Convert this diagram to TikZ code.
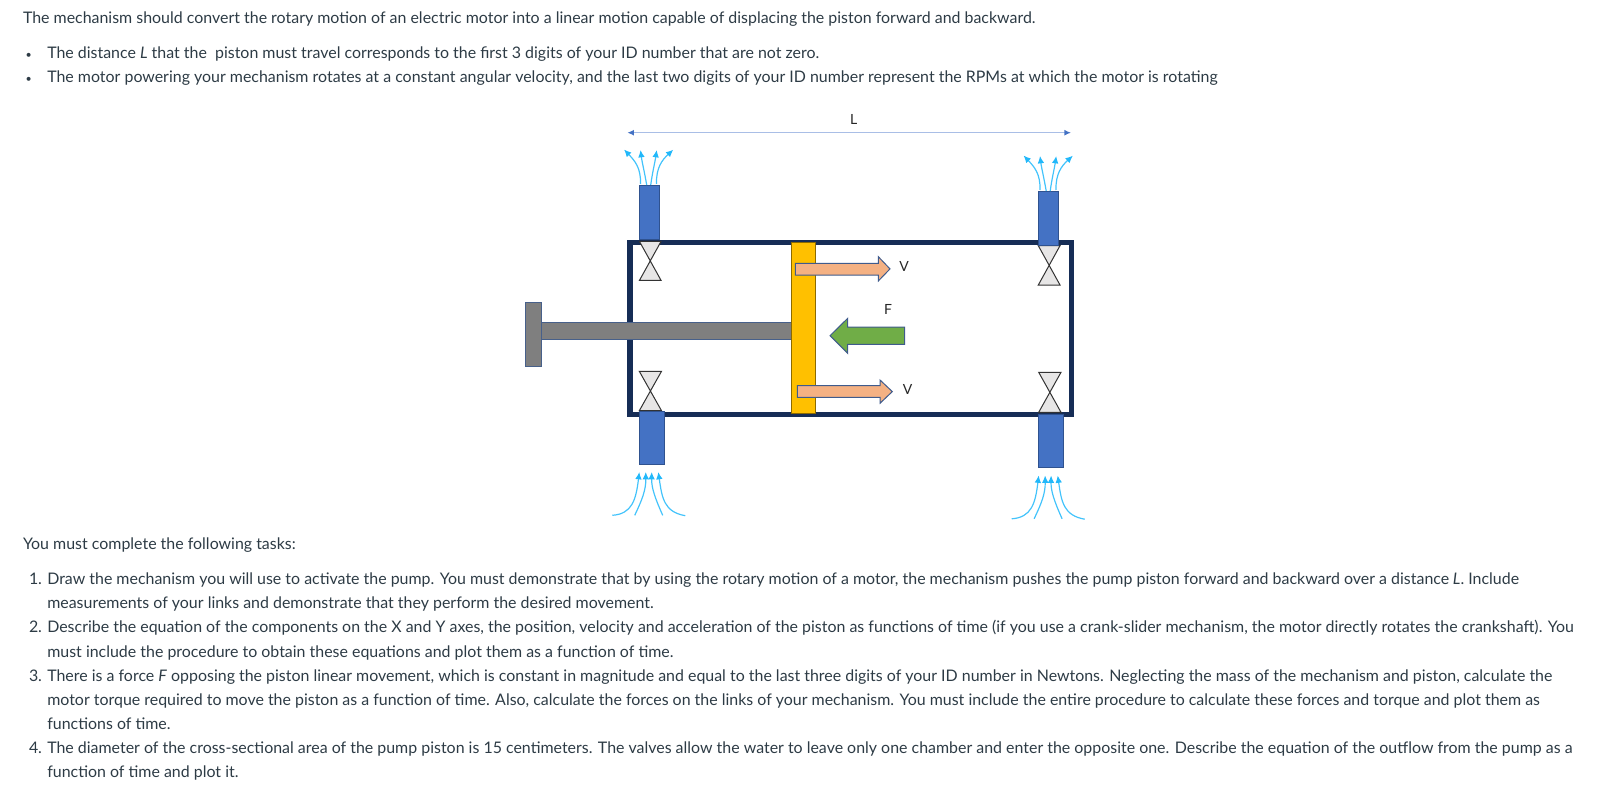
\documentclass[tikz,border=0pt]{standalone}
\usepackage{fontspec}
\setmainfont{Lato}
\usetikzlibrary{arrows.meta}
\definecolor{frameblue}{HTML}{162D56}
\definecolor{pipeblue}{HTML}{4472C4}
\definecolor{pipeedge}{HTML}{2F528F}
\definecolor{valvegray}{HTML}{E7E6E6}
\definecolor{rodgray}{HTML}{7F7F7F}
\definecolor{pistony}{HTML}{FFC000}
\definecolor{speedor}{HTML}{F4B183}
\definecolor{forceg}{HTML}{70AD47}
\definecolor{flowblue}{HTML}{22B8FA}
\definecolor{dimline}{HTML}{A9BEE6}
\definecolor{textc}{HTML}{2D3B45}
\tikzset{
  x=0.75pt,y=-0.75pt,
  bodytext/.style={anchor=base west,inner sep=0pt,outer sep=0pt,text=textc,font=\fontsize{11.95pt}{14pt}\selectfont},
  figlabel/.style={anchor=center,inner sep=0pt,text=black!85,font=\fontsize{10.5pt}{12pt}\selectfont},
  pipe/.style={draw=pipeedge,fill=pipeblue,line width=0.75pt},
  valve/.style={draw=black!80,fill=valvegray,line width=0.75pt,line join=miter},
  rodshape/.style={draw=pipeedge!70!gray,fill=rodgray,line width=0.6pt},
  blockarrow/.style={draw=pipeedge!80!gray,line width=0.75pt,line join=miter},
  flow/.style={draw=flowblue!85!white,line width=0.9pt,-{Latex[length=5.5pt,width=5pt,color=flowblue]}},
}
\newcommand{\myvalve}[4]{%
  \draw[valve] (#1,#3) -- (#2,#3) -- (#1,#4) -- (#2,#4) -- cycle;}
\newcommand{\fanup}[2]{%
  \begin{scope}[shift={(#1,#2)}]
    \draw[flow] (640.5,184) .. controls (641,168) and (635,161) .. (624,149.5);
    \draw[flow] (646.7,185) .. controls (644.5,172) and (642,162) .. (640.5,150);
    \draw[flow] (650.7,185) .. controls (652.5,172) and (655,162) .. (656.7,150);
    \draw[flow] (656.5,184) .. controls (656,168) and (662,160) .. (673.3,149.7);
  \end{scope}}
\newcommand{\fandown}[2]{%
  \begin{scope}[shift={(#1,#2)}]
    \draw[flow] (612.3,515.3) .. controls (632,514) and (636,500) .. (639.3,472);
    \draw[flow] (634.7,515.3) .. controls (642,500) and (646,490) .. (645.7,472);
    \draw[flow] (662.7,515.3) .. controls (655,498) and (651.5,488) .. (651.7,472);
    \draw[flow] (685.3,515.7) .. controls (664,512) and (662,498) .. (658.3,472);
  \end{scope}}
\begin{document}
\begin{tikzpicture}
\useasboundingbox (0,0) rectangle (1612,802);
\node[bodytext] (t1) at (23,23.5) {The mechanism should convert the rotary motion of an electric motor into a linear motion capable of displacing the piston forward and backward.};
\node[bodytext,font=\fontsize{8pt}{10pt}\selectfont] (b1) at (25.5,58.5) {•};
\node[bodytext] (t2) at (47.3,58.5) {The distance \textit{L} that the\ \ piston must travel corresponds to the first 3 digits of your ID number that are not zero.};
\node[bodytext,font=\fontsize{8pt}{10pt}\selectfont] (b2) at (25.5,83) {•};
\node[bodytext] (t3) at (47.3,83) {The motor powering your mechanism rotates at a constant angular velocity, and the last two digits of your ID number represent the RPMs at which the motor is rotating};
\node[bodytext] (t4) at (23,549) {You must complete the following tasks:};
\node[bodytext] (n1) at (29,584.6) {1.};
\node[bodytext] (t5) at (47.3,584.6) {Draw the mechanism you will use to activate the pump. You must demonstrate that by using the rotary motion of a motor, the mechanism pushes the pump piston forward and backward over a distance \textit{L}. Include};
\node[bodytext] (t6) at (47.3,608.6) {measurements of your links and demonstrate that they perform the desired movement.};
\node[bodytext] (n2) at (29,632.6) {2.};
\node[bodytext] (t7) at (47.3,632.6) {Describe the equation of the components on the X and Y axes, the position, velocity and acceleration of the piston as functions of time (if you use a crank-slider mechanism, the motor directly rotates the crankshaft). You};
\node[bodytext] (t8) at (47.3,657) {must include the procedure to obtain these equations and plot them as a function of time.};
\node[bodytext] (n3) at (29,681.4) {3.};
\node[bodytext] (t9) at (47.3,681.4) {There is a force \textit{F} opposing the piston linear movement, which is constant in magnitude and equal to the last three digits of your ID number in Newtons. Neglecting the mass of the mechanism and piston, calculate the};
\node[bodytext] (t10) at (47.3,705) {motor torque required to move the piston as a function of time. Also, calculate the forces on the links of your mechanism. You must include the entire procedure to calculate these forces and torque and plot them as};
\node[bodytext] (t11) at (47.3,729) {functions of time.};
\node[bodytext] (n4) at (29,753) {4.};
\node[bodytext] (t12) at (47.3,753) {The diameter of the cross-sectional area of the pump piston is 15 centimeters. The valves allow the water to leave only one chamber and enter the opposite one. Describe the equation of the outflow from the pump as a};
\node[bodytext] (t13) at (47.3,777) {function of time and plot it.};
\coordinate (dimL) at (627.3,132.7);
\coordinate (dimR) at (1071,132.7);
\draw[draw=dimline,line width=1pt,{Latex[length=5pt,width=4.5pt,color=pipeblue]}-{Latex[length=5pt,width=4.5pt,color=pipeblue]}] (dimL) -- (dimR);
\node[figlabel] (labL) at (853.7,119) {L};
\draw[frameblue,line width=3.9pt,line join=miter] (630,242.5) rectangle (1071.5,414.5);
\draw[rodshape] (541,322.3) rectangle (791.7,339.3);
\draw[rodshape] (525.3,302.3) rectangle (541,366);
\draw[draw=black!45!pistony,fill=pistony,line width=0.6pt] (791,242.7) rectangle (815.3,413.7);
\myvalve{639.5}{661}{241.5}{280.3}
\myvalve{639.3}{661.5}{371.3}{410.7}
\myvalve{1038.3}{1060}{245.7}{285}
\myvalve{1038.7}{1061}{372.3}{412.3}
\draw[pipe] (639.3,185.3) rectangle (659.3,240);
\draw[pipe] (639.3,411.7) rectangle (664,464.3);
\draw[pipe] (1038.3,191.7) rectangle (1058.3,245.7);
\draw[pipe] (1038.3,414) rectangle (1063.7,467);
\draw[blockarrow,fill=speedor] (795.3,263.3) -- (878.3,263.3) -- (878.3,256.7) -- (890,268.9) -- (878.3,281) -- (878.3,275) -- (795.3,275) -- cycle;
\draw[blockarrow,fill=speedor] (797.3,385.7) -- (880,385.7) -- (880,380) -- (892.3,391.6) -- (880,403.3) -- (880,397.3) -- (797.3,397.3) -- cycle;
\draw[blockarrow,fill=forceg] (830,335.7) -- (847.7,318.3) -- (847.7,327) -- (904.7,327) -- (904.7,344.3) -- (847.7,344.3) -- (847.7,353.3) -- cycle;
\node[figlabel] (labV1) at (904,266) {V};
\node[figlabel] (labV2) at (907.7,389.5) {V};
\node[figlabel] (labF) at (888,309) {F};
\fanup{0}{0}
\fanup{399.5}{6}
\fandown{0}{0}
\fandown{399.4}{3.5}
\end{tikzpicture}
\end{document}
